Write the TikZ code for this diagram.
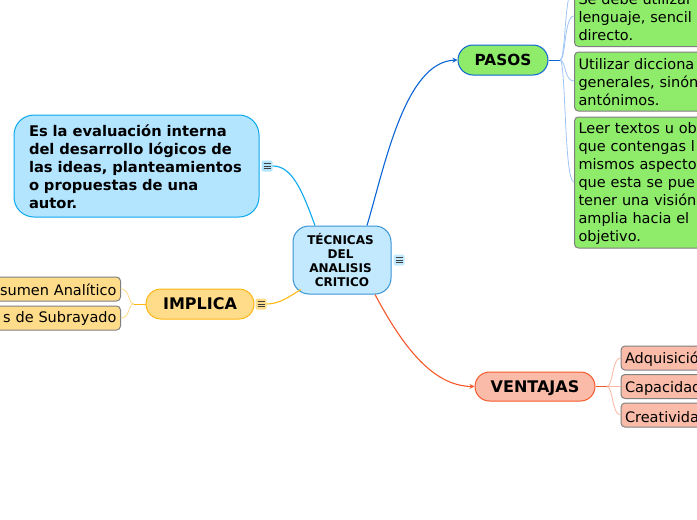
\documentclass[tikz,border=0pt]{standalone}
\usepackage{fontspec}
\setmainfont{DejaVu Sans}
\usetikzlibrary{arrows.meta}
\definecolor{cenF}{HTML}{C2E9FD}\definecolor{cenB}{HTML}{3A94D4}
\definecolor{bluF}{HTML}{B3E5FF}\definecolor{bluB}{HTML}{0AA9EE}
\definecolor{grnF}{HTML}{8EEC6A}\definecolor{grnB}{HTML}{0A64D4}\definecolor{grnL}{HTML}{9CC4F4}
\definecolor{yelF}{HTML}{FFDC8A}\definecolor{yelB}{HTML}{FDB813}\definecolor{yelL}{HTML}{FFD98A}
\definecolor{redF}{HTML}{FABBA8}\definecolor{redB}{HTML}{F5582A}\definecolor{redL}{HTML}{FBB7A2}
\definecolor{subB}{HTML}{808080}
\newcommand{\upstrut}{\rule{0pt}{13pt}}
\newcommand{\tallstrut}{\rule{0pt}{15pt}}
\tikzset{
  x=1pt,y=-1pt,
  mainbox/.style={draw,line width=1pt,inner sep=0pt,align=center,font=\fontsize{16}{18}\selectfont\bfseries},
  subbox/.style={draw=subB,line width=1pt,rounded corners=4pt,inner sep=0pt,font=\fontsize{14.5}{18}\selectfont},
  subright/.style={subbox,anchor=west,align=left,text width=126pt,inner xsep=4pt,minimum width=134pt},
  subleft/.style={subbox,anchor=east,fill=yelF,minimum width=140pt,minimum height=24pt,align=right,text width=132pt,inner xsep=4pt},
  link/.style={line width=1.1pt},
  twig/.style={line width=.8pt},
  tip/.style={-{Stealth[length=5pt,width=5pt]}},
  iconbox/.style={minimum width=11pt,minimum height=11pt,inner sep=0pt,rounded corners=2pt}
}
\newcommand{\iconlines}[1]{\draw[line width=.7pt,black!75] (#1)++(-3.5,-2.5)--++(7,0) (#1)++(-3.5,0)--++(7,0) (#1)++(-3.5,2.5)--++(7,0);}
\begin{document}
\begin{tikzpicture}
\useasboundingbox (0,0) rectangle (697,520);
\clip (0,0) rectangle (697,520);
% main nodes
\node[mainbox,draw=cenB,fill=cenF,rounded corners=16pt,minimum width=98pt,minimum height=68pt,font=\fontsize{12}{14}\selectfont\bfseries] (central) at (342,260) {TÉCNICAS\kern3pt\\DEL\kern3pt\\ANALISIS\kern3pt\\ CRITICO};
\node[mainbox,draw=bluB,fill=bluF,rounded corners=20pt,minimum width=245pt,minimum height=102pt,align=left,text width=215pt,font=\fontsize{14.7}{18}\selectfont\bfseries] (def) at (136.5,166) {\upstrut\mbox{Es la evaluación interna}\\\mbox{del desarrollo lógicos de}\\\mbox{las ideas, planteamientos}\\\mbox{o propuestas de una}\\autor.};
\node[mainbox,draw=grnB,fill=grnF,rounded corners=15pt,minimum width=90pt,minimum height=30pt,font=\fontsize{15.3}{18}\selectfont\bfseries] (pasos) at (503,60) {PASOS};
\node[mainbox,draw=redB,fill=redF,rounded corners=14.5pt,minimum width=120pt,minimum height=29pt,text height=12pt,text depth=0pt] (ventajas) at (535,386.5) {VENTAJAS};
\node[mainbox,draw=yelB,fill=yelF,rounded corners=15pt,minimum width=108pt,minimum height=30pt] (implica) at (200,304) {IMPLICA};
% icons
\node[iconbox,fill=bluF] (iconA) at (267,166) {};
\node[iconbox,fill=cenF] (iconB) at (399,260) {};
\node[iconbox,fill=yelF] (iconC) at (261,304) {};
\iconlines{iconA}\iconlines{iconB}\iconlines{iconC}
% sub nodes
\node[subright,fill=grnF,minimum height=60pt] (g1) at (574,16.5) {\upstrut Se debe utilizar\\lenguaje, sencil\\directo.};
\node[subright,fill=grnF,minimum height=59pt] (g2) at (574,81.5) {\upstrut Utilizar dicciona\\generales, sinón\\antónimos.};
\node[subright,fill=grnF,minimum height=131pt] (g3) at (574,182.5) {\upstrut Leer textos u ob\\que contengas l\\mismos aspecto\\que esta se pue\\tener una visión\\amplia hacia el\\objetivo.};
\node[subright,fill=redF,minimum height=24pt] (r1) at (620.5,358) {\tallstrut Adquisición};
\node[subright,fill=redF,minimum height=24pt] (r2) at (620.5,386.5) {\tallstrut Capacidad};
\node[subright,fill=redF,minimum height=24pt] (r3) at (620.5,415) {\tallstrut Creatividad};
\node[subleft] (y1) at (121,289) {\upstrut sumen Analítico};
\node[subleft] (y2) at (121,318) {\upstrut s de Subrayado};
\coordinate (offtop) at (570,-12);
% connectors
\draw[link,bluB] (central.north)++(-27,0) .. controls (302,190) and (292,166) .. (iconA.east);
\draw[link,grnB,tip] (central.north)++(25,0) .. controls (385,165) and (405,62) .. (pasos.west);
\draw[link,redB,tip] (central.south)++(33,0) .. controls (402,345) and (432,386) .. (ventajas.west);
\draw[link,yelB] (central.south)++(-41,-5) .. controls (290,296) and (280,304) .. (iconC.east);
\draw[twig,grnB] (pasos.east) -- (560,60);
\foreach \yy in {-12,16,81,182}{\draw[twig,grnL] (560,60) .. controls (566,60) and (564,\yy) .. (574,\yy);}
\draw[twig,redB] (ventajas.east) -- (607,386.5);
\draw[twig,redL] (607,386.5) .. controls (613,386.5) and (612,358) .. (r1.west);
\draw[twig,redL] (607,386.5) -- (r2.west);
\draw[twig,redL] (607,386.5) .. controls (613,386.5) and (612,415) .. (r3.west);
\draw[twig,yelB] (implica.west) -- (134,304);
\draw[twig,yelL] (134,304) .. controls (128,304) and (130,289) .. (y1.east);
\draw[twig,yelL] (134,304) .. controls (128,304) and (130,318) .. (y2.east);
\end{tikzpicture}
\end{document}
